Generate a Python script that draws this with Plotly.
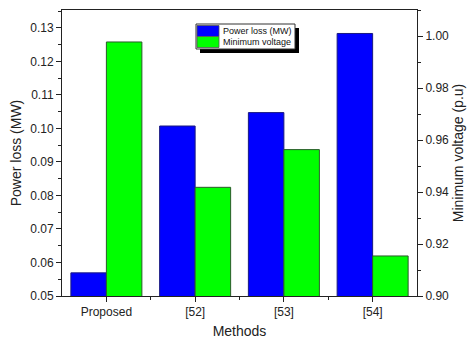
import plotly.graph_objects as go

categories = ["Proposed", "[52]", "[53]", "[54]"]
power_loss = [0.0569, 0.1007, 0.1047, 0.1283]
min_voltage = [0.9977, 0.9418, 0.9563, 0.9154]
series_names = ["Power loss (MW)", "Minimum voltage"]
series_colors = ["#0000FF", "#00FF00"]

xpos = list(range(len(categories)))
FONT = "Liberation Sans, Arial, sans-serif"

# plot area in pixels: left 62, right 417, top 10, bottom 296
L, R, T, B = 62, 417, 10, 296
def px(x):
    return (x - L) / (R - L)
def py(y):
    return (B - y) / (B - T)

fig = go.Figure()
fig.add_trace(go.Bar(
    x=xpos, y=power_loss, name=series_names[0],
    marker=dict(color=series_colors[0], line=dict(color="#1a1a80", width=1)),
    offset=-0.4, width=0.4, yaxis="y",
))
fig.add_trace(go.Bar(
    x=xpos, y=min_voltage, name=series_names[1],
    marker=dict(color=series_colors[1], line=dict(color="#2a5a2a", width=1)),
    offset=0.0, width=0.4, yaxis="y2", base=0,
))

fig.update_layout(
    width=474, height=348,
    margin=dict(l=L, r=474 - R, t=T, b=348 - B),
    paper_bgcolor="white", plot_bgcolor="white",
    font=dict(family=FONT, size=12, color="#222"),
    showlegend=False,
    xaxis=dict(
        range=[-0.5, 3.5], tickvals=xpos, ticktext=categories,
        showline=True, linecolor="#222", linewidth=1, mirror=True,
        ticks="outside", ticklen=5, tickcolor="#222",
        minor=dict(tickvals=[0.5, 1.5, 2.5], ticks="outside", ticklen=3, tickcolor="#222"),
        showgrid=False, zeroline=False,
        title=dict(text="Methods", font=dict(size=14, family=FONT), standoff=7),
        tickfont=dict(size=12),
    ),
    xaxis2=dict(
        range=[-0.5, 3.5], overlaying="x", side="top", tickvals=xpos,
        showticklabels=False, ticks="inside", ticklen=5, tickcolor="#222",
        minor=dict(tickvals=[0.5, 1.5, 2.5], ticks="inside", ticklen=3, tickcolor="#222"),
        showgrid=False, zeroline=False, showline=False,
    ),
    yaxis=dict(
        range=[0.05, 0.1353], dtick=0.01, tick0=0.05, tickformat=".2f",
        showline=True, linecolor="#222", linewidth=1,
        ticks="outside", ticklen=5, tickcolor="#222",
        minor=dict(dtick=0.005, ticks="outside", ticklen=3, tickcolor="#222"),
        showgrid=False, zeroline=False,
        title=dict(text="Power loss (MW)", font=dict(size=14, family=FONT), standoff=5),
        tickfont=dict(size=12),
    ),
    yaxis2=dict(
        range=[0.90, 1.01], dtick=0.02, tick0=0.90, tickformat=".2f",
        overlaying="y", side="right",
        showline=True, linecolor="#222", linewidth=1,
        ticks="outside", ticklen=5, tickcolor="#222",
        minor=dict(dtick=0.01, ticks="outside", ticklen=3, tickcolor="#222"),
        showgrid=False, zeroline=False,
        title=dict(text="Minimum voltage (p.u)", font=dict(size=14, family=FONT), standoff=5),
        tickfont=dict(size=12),
    ),
)

# manual legend (Origin style with drop shadow)
bx0, bx1, by0, by1 = 196, 295, 24, 49
fig.add_shape(type="rect", xref="paper", yref="paper",
              x0=px(bx0 + 4), x1=px(bx1 + 4), y0=py(by1 + 4), y1=py(by0 + 4),
              fillcolor="black", line=dict(width=0))
fig.add_shape(type="rect", xref="paper", yref="paper",
              x0=px(bx0), x1=px(bx1), y0=py(by1), y1=py(by0),
              fillcolor="white", line=dict(color="#333", width=1))
rows = [(25.5, 36.5), (36.5, 47.5)]
for (r0, r1), name, col in zip(rows, series_names, series_colors):
    fig.add_shape(type="rect", xref="paper", yref="paper",
                  x0=px(197), x1=px(219), y0=py(r1), y1=py(r0),
                  fillcolor=col, line=dict(color="#555", width=0.8))
    fig.add_annotation(xref="paper", yref="paper", x=px(220.5), y=py((r0 + r1) / 2),
                       text=name, showarrow=False, xanchor="left", yanchor="middle",
                       font=dict(size=9, family=FONT, color="#111"))

fig.write_html("out.html")
